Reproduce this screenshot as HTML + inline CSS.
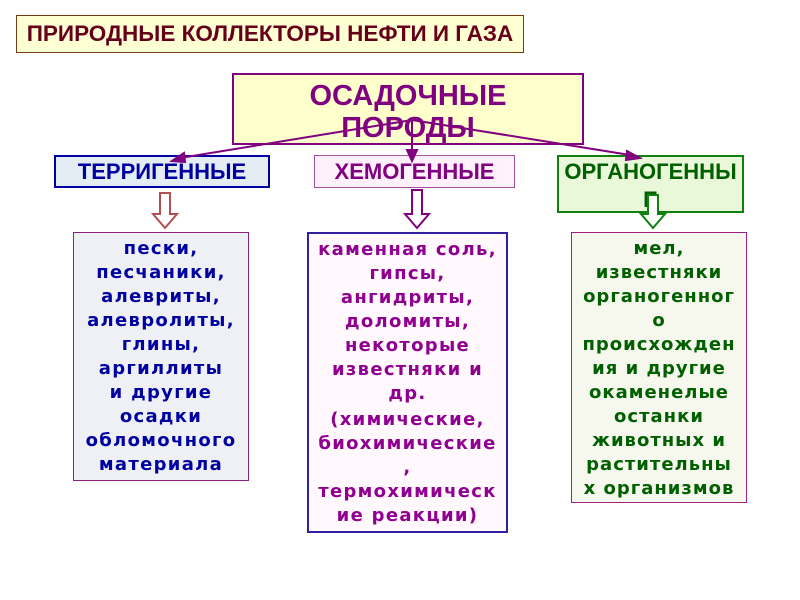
<!DOCTYPE html>
<html><head><meta charset="utf-8"><style>
body{margin:0;width:800px;height:600px;background:#fff;position:relative;overflow:hidden;font-family:"DejaVu Sans","Liberation Sans",sans-serif}
.b{position:absolute;box-sizing:border-box}
.h{font-family:"Liberation Sans",sans-serif;font-weight:bold;text-align:center;white-space:nowrap}
.t{font-weight:bold;font-size:18px;line-height:24px;text-align:center;letter-spacing:1.3px;position:absolute;box-sizing:border-box;white-space:nowrap}
</style></head><body>
<div class="b" style="left:16px;top:15px;width:508px;height:38px;background:#ffffd4;border:1px solid #7a3a10"></div>
<div class="b h" style="left:16px;top:15px;width:508px;height:38px;line-height:38px;font-size:22.5px;color:#66001a">ПРИРОДНЫЕ КОЛЛЕКТОРЫ НЕФТИ И ГАЗА</div>

<div class="b" style="left:232px;top:73px;width:352px;height:72px;background:#ffffcc;border:2px solid #800080"></div>
<div class="b h" style="left:232px;top:80px;width:352px;font-size:29px;line-height:32px;color:#800080">ОСАДОЧНЫЕ<br>ПОРОДЫ</div>

<div class="b" style="left:54px;top:155px;width:216px;height:33px;background:#e4ecf4;border:2px solid #0000a0"></div>
<div class="b h" style="left:54px;top:155px;width:216px;height:33px;line-height:33px;font-size:22px;color:#0000a0">ТЕРРИГЕННЫЕ</div>
<div class="b" style="left:314px;top:155px;width:201px;height:33px;background:#fff0fc;border:1px solid #a050a0"></div>
<div class="b h" style="left:314px;top:155px;width:201px;height:33px;line-height:33px;font-size:22px;color:#800080">ХЕМОГЕННЫЕ</div>
<div class="b" style="left:557px;top:155px;width:187px;height:58px;background:#e8f8d8;border:2px solid #108010"></div>
<div class="b h" style="left:557px;top:158px;width:187px;line-height:28px;font-size:22px;color:#006000">ОРГАНОГЕННЫ<br>Е</div>

<svg class="b" style="left:0;top:0" width="800" height="600">
<g stroke="#800080" stroke-width="2" fill="#800080">
<line x1="412" y1="120" x2="180" y2="158"/><polygon points="172,161 184,153 185,162"/>
<line x1="412" y1="120" x2="412" y2="152"/><polygon points="407,150 417,150 412,161"/>
<line x1="412" y1="120" x2="630" y2="155"/><polygon points="640,158 627,151 626,160"/>
</g>
<polygon points="160,193 170,193 170,214 177,214 165,228 153,214 160,214" fill="#fff" stroke="#b05050" stroke-width="2"/>
<polygon points="412,190 422,190 422,214 429,214 417,228 405,214 412,214" fill="#fff" stroke="#800080" stroke-width="2"/>
<polygon points="648,195 658,195 658,214 665,214 653,228 641,214 648,214" fill="#fff" stroke="#108010" stroke-width="2"/>
</svg>

<div class="t" style="left:73px;top:232px;width:176px;height:249px;padding-top:4px;background:#eef0f6;border:1px solid #902080;color:#0000a0">пески,<br>песчаники,<br>алевриты,<br>алевролиты,<br>глины,<br>аргиллиты<br>и другие<br>осадки<br>обломочного<br>материала</div>
<div class="t" style="left:307px;top:232px;width:201px;height:301px;padding-top:4px;background:#fff8fc;border:2px solid #3020a0;color:#900090">каменная соль,<br>гипсы,<br>ангидриты,<br>доломиты,<br>некоторые<br>известняки и<br>др.<div style="height:2px"></div>(химические,<br>биохимические<br>,<br>термохимическ<br>ие реакции)</div>
<div class="t" style="left:571px;top:232px;width:176px;height:271px;padding-top:4px;background:#f6f8ee;border:1px solid #a02080;color:#006000;letter-spacing:1px">мел,<br>известняки<br>органогенног<br>о<br>происхожден<br>ия и другие<br>окаменелые<br>останки<br>животных и<br>растительны<br>х организмов</div>
</body></html>
